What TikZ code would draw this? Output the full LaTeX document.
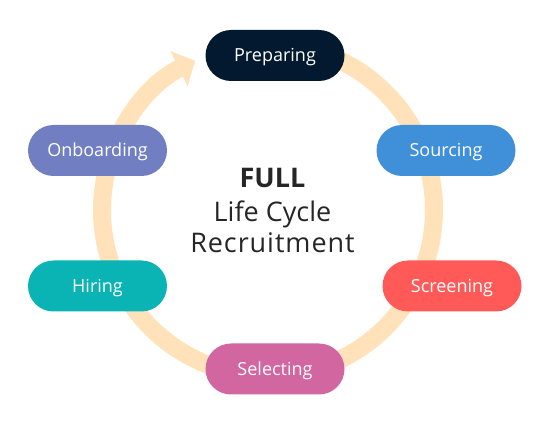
\documentclass[tikz,border=0pt]{standalone}
\usepackage{fontspec}
\setmainfont{Open Sans}
\usetikzlibrary{arrows.meta}
\definecolor{ringc}{HTML}{FFE2BA}
\definecolor{cprep}{HTML}{03192F}
\definecolor{csour}{HTML}{3F8FD9}
\definecolor{cscre}{HTML}{FF5A58}
\definecolor{csele}{HTML}{D166A1}
\definecolor{chiri}{HTML}{0AB4B4}
\definecolor{conbo}{HTML}{717FC2}
\definecolor{ctext}{HTML}{262626}
\tikzset{
  stage/.style={fill=#1, rounded corners=25.5pt, minimum width=139pt, minimum height=51pt,
    inner sep=0pt, text=white, text height=12.9pt, text depth=0pt,
    font=\fontsize{18}{20}\selectfont},
  ring/.style={draw=ringc, line width=18pt, -{Triangle[width=38pt,length=18pt]}}
}
\begin{document}
\begin{tikzpicture}[x=1pt,y=1pt]
\useasboundingbox (0,0) rectangle (550,-425);
\coordinate (c) at (268,-210);
\draw[ring] (c) ++(85:166) arc[start angle=85, end angle=-244, radius=166];
\node[stage=cprep] (prep) at (275,-55.5) {Preparing};
\node[stage=csour] (sour) at (446,-150.5) {Sourcing};
\node[stage=cscre] (scre) at (452,-286) {Screening};
\node[stage=csele] (sele) at (275,-369) {Selecting};
\node[stage=chiri] (hiri) at (97.5,-286) {Hiring};
\node[stage=conbo] (onbo) at (97.5,-150.5) {Onboarding};
\node[anchor=base, align=center, text=ctext, inner sep=0pt,
  font=\fontsize{27}{34}\selectfont] (title) at (272.5,-253)
  {\textbf{FULL}\\Life Cycle\\[-3pt]{\addfontfeature{LetterSpace=3.5}Recruitment}};
\end{tikzpicture}
\end{document}
